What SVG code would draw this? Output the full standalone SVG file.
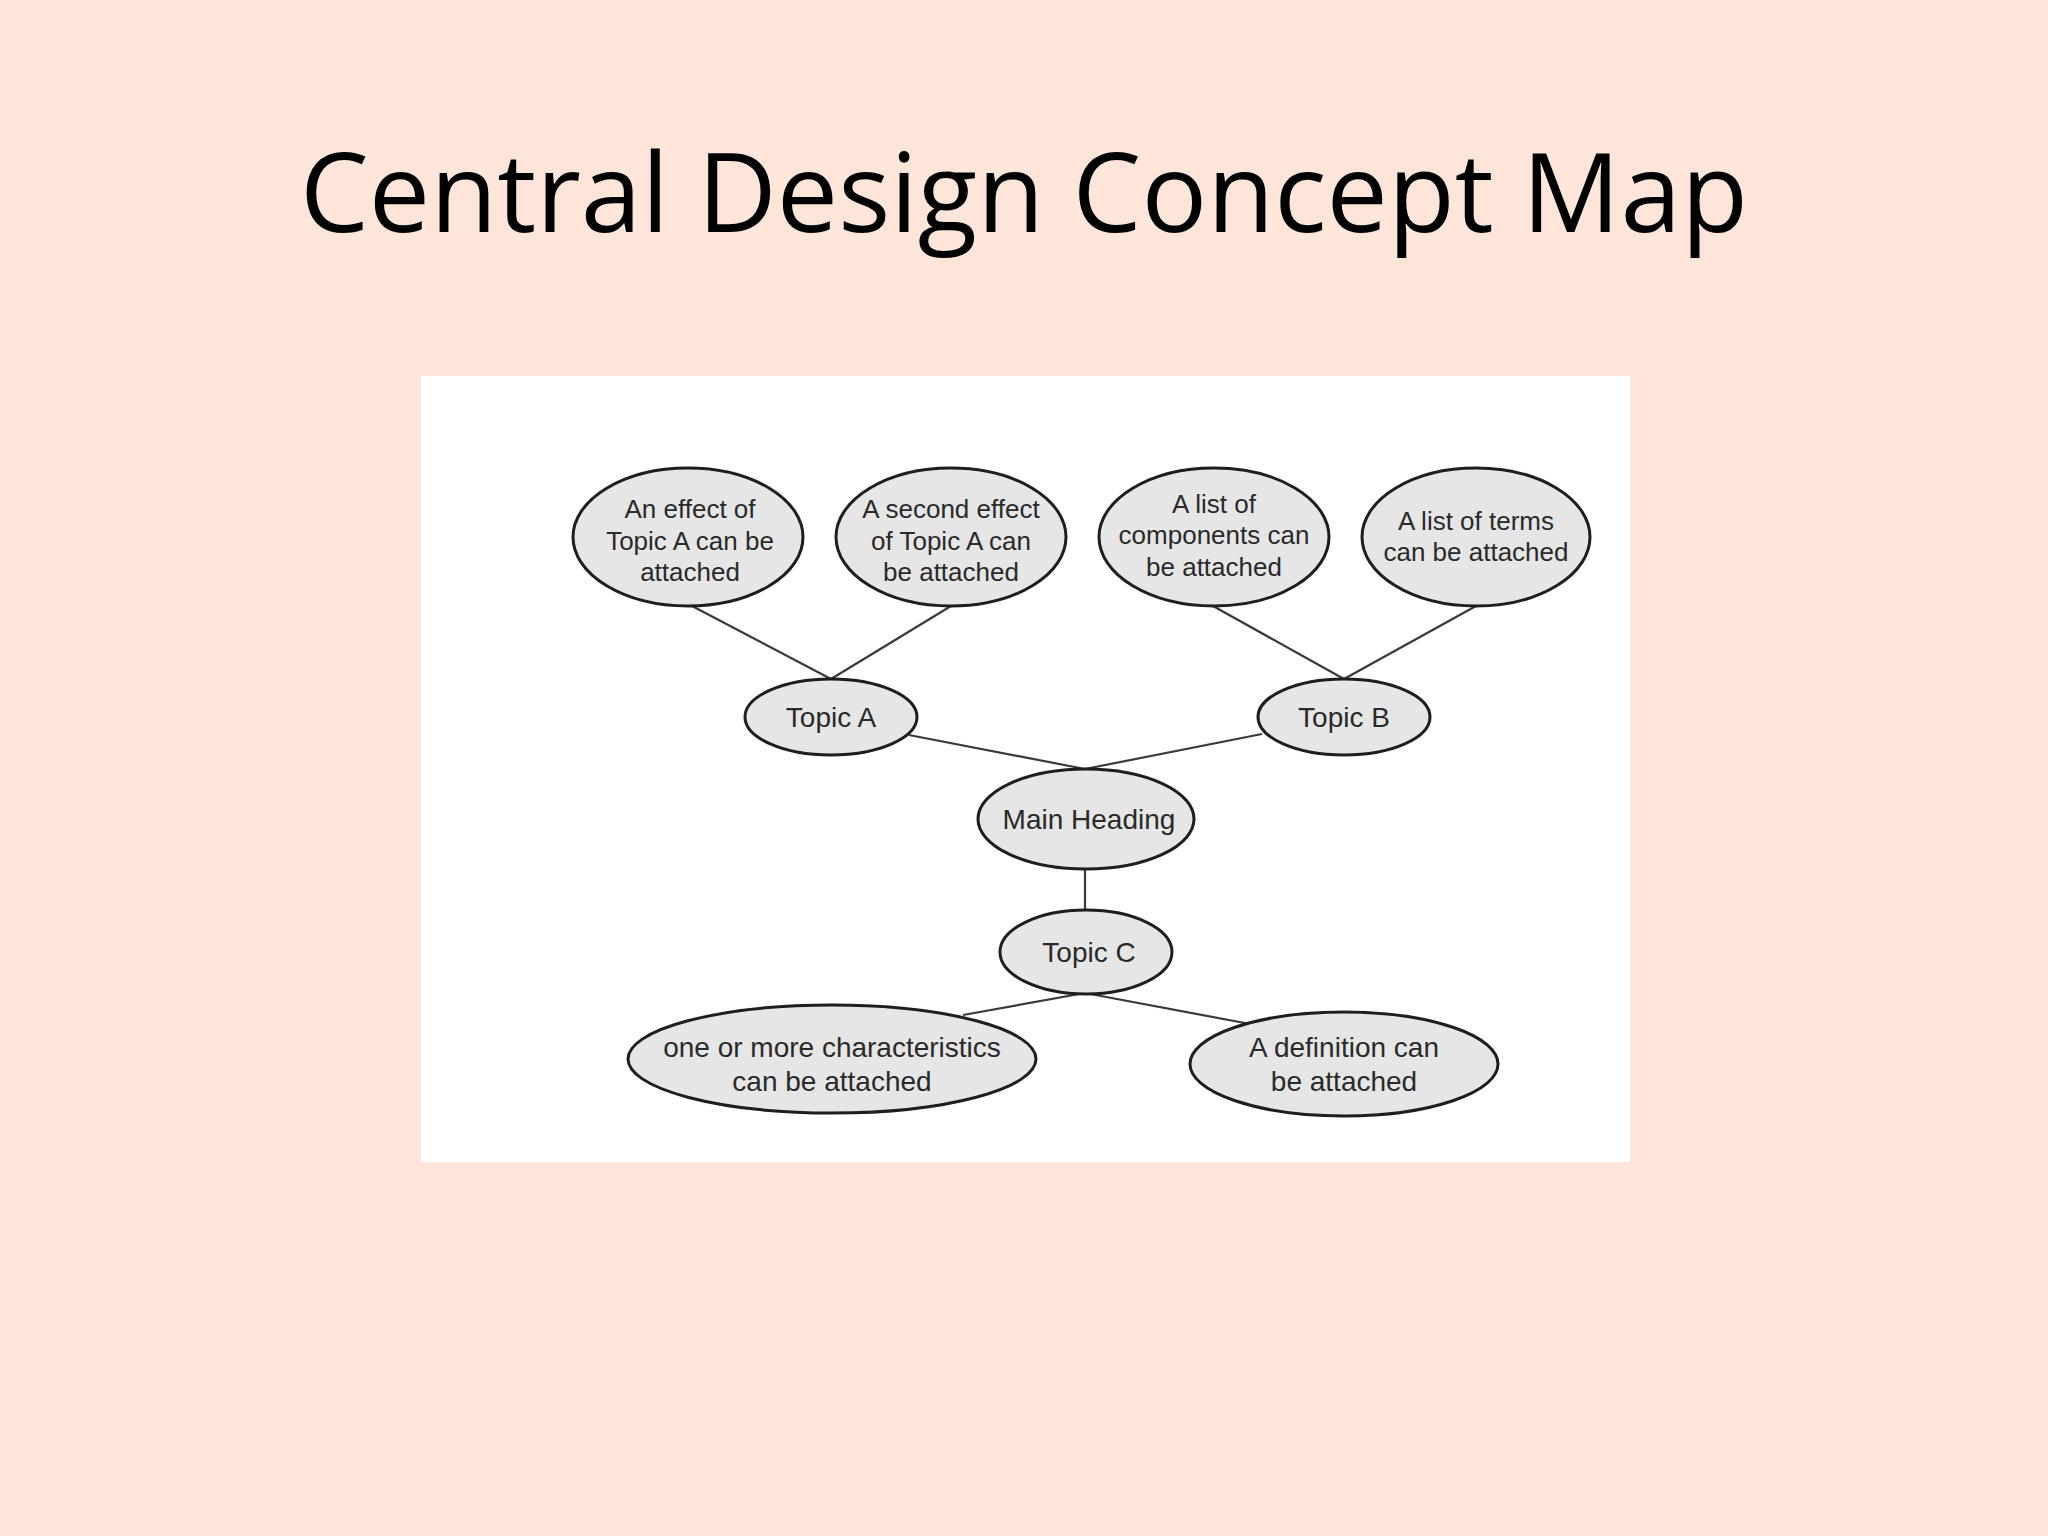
<svg xmlns="http://www.w3.org/2000/svg" width="2048" height="1536" viewBox="0 0 2048 1536">
<style>
.node ellipse{fill:#e6e6e6;stroke:#1e1e1e;stroke-width:3}
.node text{font-family:"Liberation Sans",Arial,sans-serif;font-size:26px;fill:#2a2a2a;text-anchor:middle}
.node text.big{font-size:28px}
#connectors line{stroke:#3a3a3a;stroke-width:2.2}
.title{font-family:"Open Sans","Liberation Sans",sans-serif;font-size:110px;fill:#000;text-anchor:middle}
</style>
<rect x="0" y="0" width="2048" height="1536" fill="#fde6d9"/>
<text class="title" x="1024" y="232" textLength="1448" lengthAdjust="spacingAndGlyphs">Central Design Concept Map</text>
<rect x="421" y="376" width="1209" height="786" fill="#ffffff"/>
<g id="connectors">
<line x1="692" y1="606" x2="831" y2="679"/>
<line x1="951" y1="606" x2="831" y2="679"/>
<line x1="1213" y1="606" x2="1344" y2="679"/>
<line x1="1476" y1="606" x2="1344" y2="679"/>
<line x1="909" y1="735" x2="1085" y2="769"/>
<line x1="1262" y1="734" x2="1085" y2="769"/>
<line x1="1085" y1="869" x2="1085" y2="910"/>
<line x1="1085" y1="993" x2="963" y2="1015"/>
<line x1="1085" y1="993" x2="1250" y2="1024"/>
</g>
<g id="n1" class="node"><ellipse cx="688" cy="537" rx="115" ry="69"/><text x="690" y="518">An effect of</text><text x="690" y="550">Topic A can be</text><text x="690" y="581">attached</text></g>
<g id="n2" class="node"><ellipse cx="951" cy="537" rx="115" ry="69"/><text x="951" y="518">A second effect</text><text x="951" y="550">of Topic A can</text><text x="951" y="581">be attached</text></g>
<g id="n3" class="node"><ellipse cx="1214" cy="537" rx="115" ry="69"/><text x="1214" y="513">A list of</text><text x="1214" y="544">components can</text><text x="1214" y="576">be attached</text></g>
<g id="n4" class="node"><ellipse cx="1476" cy="537" rx="114" ry="69"/><text x="1476" y="530">A list of terms</text><text x="1476" y="561">can be attached</text></g>
<g id="topicA" class="node"><ellipse cx="831" cy="717" rx="86" ry="38"/><text class="big" x="831" y="727">Topic A</text></g>
<g id="topicB" class="node"><ellipse cx="1344" cy="717" rx="86" ry="38"/><text class="big" x="1344" y="727">Topic B</text></g>
<g id="main" class="node"><ellipse cx="1086" cy="819" rx="108" ry="50"/><text class="big" x="1089" y="829">Main Heading</text></g>
<g id="topicC" class="node"><ellipse cx="1086" cy="952" rx="86" ry="42"/><text class="big" x="1089" y="962">Topic C</text></g>
<g id="n9" class="node"><ellipse cx="832" cy="1059" rx="204" ry="54"/><text class="big" x="832" y="1057">one or more characteristics</text><text class="big" x="832" y="1091">can be attached</text></g>
<g id="n10" class="node"><ellipse cx="1344" cy="1064" rx="154" ry="52"/><text class="big" x="1344" y="1057">A definition can</text><text class="big" x="1344" y="1091">be attached</text></g>
</svg>
